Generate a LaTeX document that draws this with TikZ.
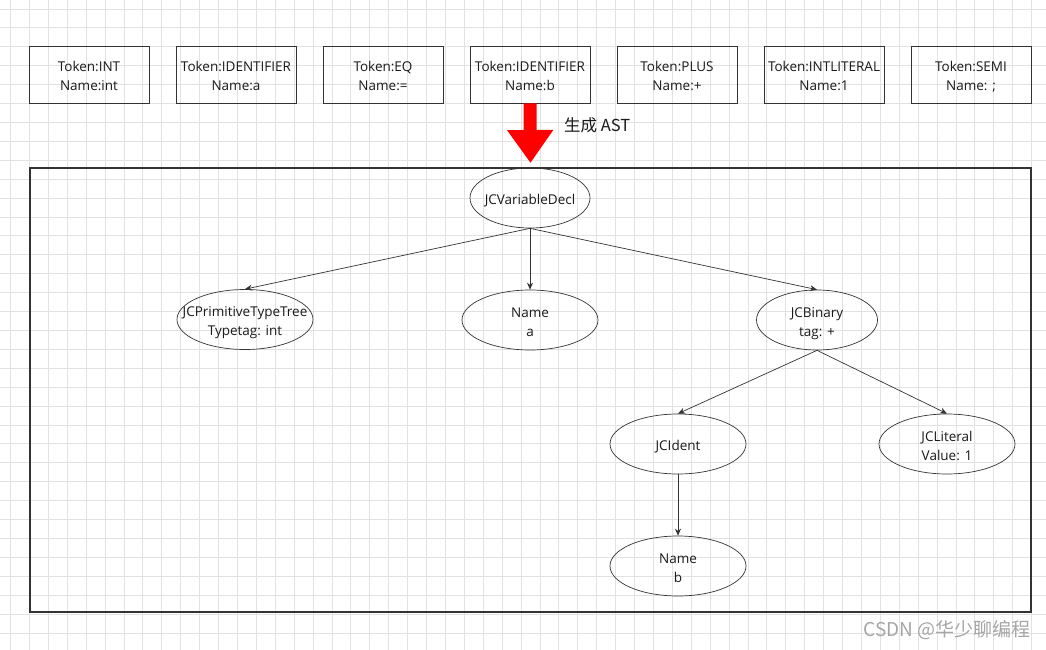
\documentclass[tikz,border=0pt]{standalone}
\usepackage{fontspec}
\setmainfont{Open Sans}
\newfontfamily\cjkfont{Noto Sans CJK SC}
\usetikzlibrary{shapes.geometric,arrows.meta}
\definecolor{gridc}{HTML}{E2E2E2}
\definecolor{edgec}{HTML}{333333}
\definecolor{textc}{HTML}{1A1A1A}
\definecolor{wmc}{HTML}{A6A6A6}
\tikzset{
  nodetext/.style={align=center, text=textc, font=\fontsize{13.5}{19}\selectfont, text depth=0pt},
  oneline/.style={text height=13.5pt},
  twoline/.style={text height=32.5pt},
  tokbox/.style={draw=edgec, line width=0.9pt, rectangle, minimum width=120pt, minimum height=57pt, inner sep=0pt, nodetext, twoline},
  astnode/.style={draw=edgec, line width=0.7pt, ellipse, minimum width=136pt, minimum height=60pt, inner xsep=-20pt, inner ysep=0pt, nodetext},
  edge/.style={draw=edgec, line width=0.7pt, -{Stealth[length=7pt,width=6pt]}},
}
\begin{document}
\begin{tikzpicture}[x=1pt,y=-1pt]
\useasboundingbox (0,0) rectangle (1046,650);
\fill[white] (0,0) rectangle (1046,650);
% grid
\foreach \i in {0,...,55} {
  \draw[gridc, line width=0.9pt] ({10.5+18.91*\i},0) -- ({10.5+18.91*\i},650);
}
\foreach \j in {0,...,34} {
  \draw[gridc, line width=0.9pt] (0,{9+18.91*\j}) -- (1046,{9+18.91*\j});
}
% tokens
\node[tokbox] (t1) at (89,74.5) {Token:INT\\Name:int};
\node[tokbox] (t2) at (236,74.5) {Token:IDENTIFIER\\Name:a};
\node[tokbox] (t3) at (383,74.5) {Token:EQ\\Name:=};
\node[tokbox] (t4) at (530,74.5) {Token:IDENTIFIER\\Name:b};
\node[tokbox] (t5) at (677,74.5) {Token:PLUS\\Name:+};
\node[tokbox] (t6) at (824,74.5) {Token:INTLITERAL\\Name:1};
\node[tokbox] (t7) at (971,74.5) {Token:SEMI\\Name: ;};
% frame
\draw[edgec, line width=2pt] (30,168) rectangle (1031,612);
% red arrow
\coordinate (arrowend) at (530.5,163);
\draw[red, line width=13pt, -{Triangle[length=33pt,width=44pt]}] (t4.south) -- (arrowend);
\node[font=\cjkfont\fontsize{16.5}{19}\selectfont, text=textc, anchor=west, inner sep=0pt] (lbl) at (564,125) {生成 AST};
% AST
\node[astnode, oneline, minimum width=120pt] (vd) at (530,198) {JCVariableDecl};
\node[astnode, twoline] (ptt) at (245,319.5) {JCPrimitiveTypeTree\\Typetag: int};
\node[astnode, twoline] (na) at (530,320) {Name\\a};
\node[astnode, twoline, minimum width=121pt] (bin) at (817,320) {JCBinary\\tag: +};
\node[astnode, oneline] (id) at (678,444) {JCIdent};
\node[astnode, twoline] (lit) at (947,444) {JCLiteral\\Value: 1};
\node[astnode, twoline] (nb) at (678,566) {Name\\b};
\draw[edge] (vd.south) -- (ptt.north);
\draw[edge] (vd.south) -- (na.north);
\draw[edge] (vd.south) -- (bin.north);
\draw[edge] (bin.south) -- (id.north);
\draw[edge] (bin.south) -- (lit.north);
\draw[edge] (id.south) -- (nb.north);
% watermark
\node[font=\cjkfont\fontsize{19}{22}\selectfont, text=wmc, anchor=east, inner sep=0pt] (wm) at (1031,630) {CSDN @华少聊编程};
\end{tikzpicture}
\end{document}
